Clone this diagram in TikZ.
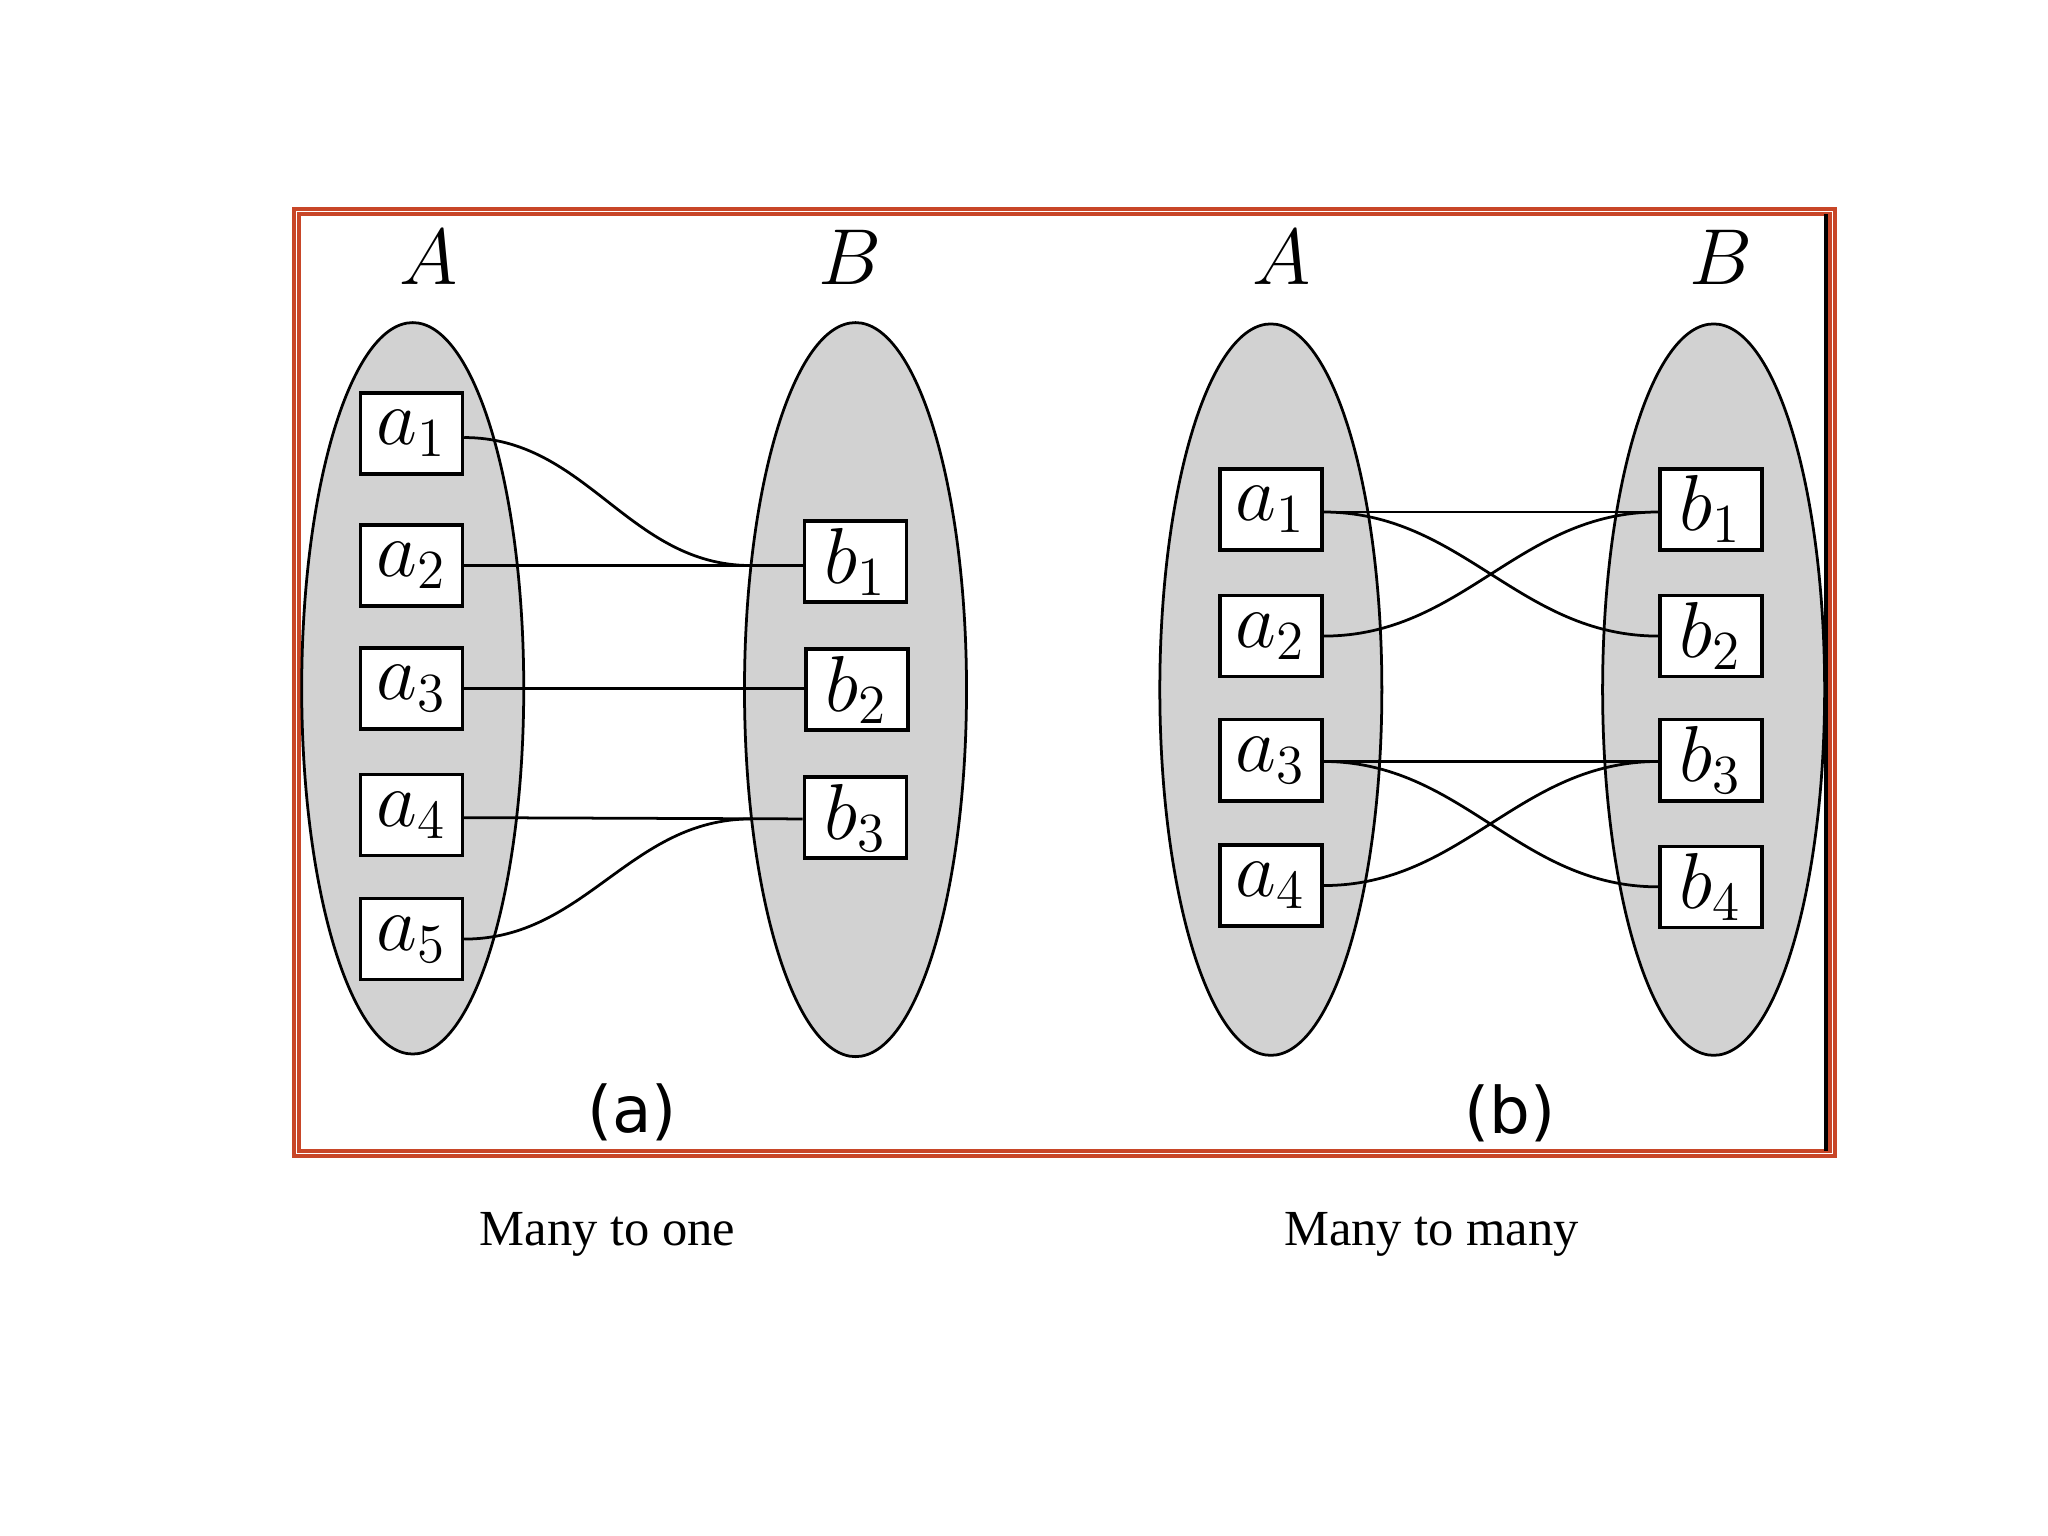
\documentclass[tikz,border=0pt]{standalone}
\usepackage{fontspec}
\newfontfamily\timesf{Liberation Serif}
\newfontfamily\sansf{DejaVu Sans}
\definecolor{framec}{RGB}{200,70,40}
\begin{document}
\begin{tikzpicture}[x=0.01cm,y=-0.01cm,
  set/.style={draw=black,fill=gray!35,line width=0.6pt},
  box/.style={draw=black,fill=white,line width=0.8pt,minimum width=0.78cm,minimum height=0.62cm,inner sep=0pt,font=\fontsize{17}{20}\selectfont},
  lab/.style={font=\fontsize{17}{20}\selectfont},
  captxt/.style={font=\sansf\fontsize{14}{16}\selectfont},
  desc/.style={font=\timesf\fontsize{11}{13}\selectfont},
  con/.style={line width=0.6pt}]
\useasboundingbox (0,0) rectangle (1568,1176);
\draw[draw=framec,line width=0.8pt] (225,160) rectangle (1405,885);
\draw[draw=framec,line width=0.8pt] (229,164) rectangle (1401,881);
\draw[line width=1pt] (1398,164) -- (1398,881);
% ellipses
\draw[set] (316,527) ellipse [x radius=85,y radius=280];
\draw[set] (655,528) ellipse [x radius=85,y radius=281];
\draw[set] (973,528) ellipse [x radius=85,y radius=280];
\draw[set] (1312,528) ellipse [x radius=85,y radius=280];
\node[lab] (LA) at (328,197) {$A$};
\node[lab] (LB) at (651,197) {$B$};
\node[lab] (RA) at (981,197) {$A$};
\node[lab] (RB) at (1318,197) {$B$};
% left boxes
\node[box] (a1) at (315,332) {$a_1$};
\node[box] (a2) at (315,433) {$a_2$};
\node[box] (a3) at (315,527) {$a_3$};
\node[box] (a4) at (315,624) {$a_4$};
\node[box] (a5) at (315,719) {$a_5$};
\node[box] (b1) at (655,430) {$b_1$};
\node[box] (b2) at (656,528) {$b_2$};
\node[box] (b3) at (655,626) {$b_3$};
\coordinate (j1) at (575,433);
\coordinate (j3) at (575,627);
\draw[con] (a1.east) ++(0,3) to[out=0,in=180] (j1) -- (b1.west |- j1);
\draw[con] (a2.east) -- (b1.west |- a2.east);
\draw[con] (a3.east) -- (b2.west |- a3.east);
\draw[con] (a4.east) ++(0,2) -- (b3.west |- j3);
\draw[con] (a5.east) to[out=0,in=180] (j3);
% right boxes
\node[box] (c1) at (973,390) {$a_1$};
\node[box] (c2) at (973,487) {$a_2$};
\node[box] (c3) at (973,582) {$a_3$};
\node[box] (c4) at (973,678) {$a_4$};
\node[box] (d1) at (1310,390) {$b_1$};
\node[box] (d2) at (1310,487) {$b_2$};
\node[box] (d3) at (1310,582) {$b_3$};
\node[box] (d4) at (1310,679) {$b_4$};
\coordinate (k1) at (1013,392);
\coordinate (k3) at (1013,583);
\draw[con] (k1) -- (d1.west |- k1);
\draw[con] (k1) to[out=0,in=180] (d2.west);
\draw[con] (c2.east) to[out=0,in=180] (d1.west |- k1);
\draw[con] (k3) -- (d3.west |- k3);
\draw[con] (k3) to[out=0,in=180] (d4.west);
\draw[con] (c4.east) to[out=0,in=180] (d3.west |- k3);
\node[captxt] (ca) at (484,852) {(a)};
\node[captxt] (cb) at (1156,852) {(b)};
\node[desc] (m1) at (465,945) {Many to one};
\node[desc] (m2) at (1096,945) {Many to many};
\end{tikzpicture}
\end{document}
